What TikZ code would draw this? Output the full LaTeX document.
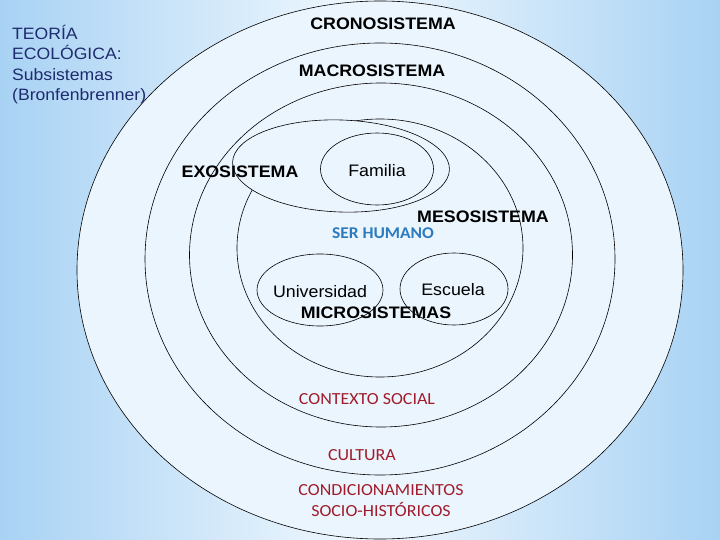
\documentclass[tikz,border=0pt]{standalone}
\usepackage{fontspec}
\setmainfont{Liberation Sans}[FakeStretch=1.07]
\newfontfamily\calibri{Carlito}[FakeStretch=1.06]
\usetikzlibrary{shapes.geometric}
\definecolor{bgblue}{HTML}{A8D2F4}
\definecolor{bgwhite}{HTML}{F0F8FE}
\definecolor{ringfill}{HTML}{EBF5FD}
\definecolor{navy}{HTML}{1E2B6E}
\definecolor{human}{HTML}{2C7BBE}
\definecolor{wine}{HTML}{A01C2C}

\begin{document}
\begin{tikzpicture}[x=1bp, y=1bp,
	ring/.style = {ellipse, draw=black, fill=ringfill, line width=0.6bp, inner sep=0pt},
	oval/.style = {ellipse, draw=black, line width=0.6bp, inner sep=0pt},
	sys/.style = {anchor=base, inner sep=0pt, font=\fontsize{16.7}{20}\selectfont\bfseries},
	lbl/.style = {anchor=base, inner sep=0pt, font=\fontsize{16.7}{20}\selectfont},
	ctx/.style = {anchor=base, inner sep=0pt, text=wine, font=\calibri\fontsize{17}{21}\selectfont}
	]
	
	%Background
	\useasboundingbox (0,0) rectangle (720,-540);
	\shade[left color=bgblue, right color=bgblue, middle color=bgwhite] (0,0) rectangle (720,-540);
	
	%Rings
	\node[ring, minimum width=606bp, minimum height=538bp]	(ring-crono)	at	(380,-270)	{};
	\node[ring, minimum width=470bp, minimum height=432bp]	(ring-macro)	at	(380,-259)	{};
	\node[ring, minimum width=383bp, minimum height=344bp]	(ring-exo)		at	(381,-255)	{};
	\node[ring, minimum width=286bp, minimum height=258bp]	(ring-meso)		at	(380,-248)	{};
	
	%Ovals
	\node[ring, minimum width=217bp, minimum height=92bp, rotate=-2]	(exo-fam)	at	(341,-166)	{};
	\node[oval, minimum width=113bp, minimum height=72bp]	(familia)	at	(377,-169)	{};
	\node[oval, minimum width=126bp, minimum height=72bp]	(univ)		at	(320,-290)	{};
	\node[oval, minimum width=108bp, minimum height=72bp]	(escuela)	at	(454,-289)	{};
	
	%Texts (a multi-line node sits on its last baseline)
	\node[anchor=base west, align=left, inner sep=0pt, text=navy, font=\fontsize{16.5}{20.7}\selectfont]
		(title) at (12,-101) {TEORÍA\\ECOLÓGICA:\\Subsistemas\\(Bronfenbrenner)};
	
	\node[sys]	(crono-txt)	at	(383,-30)	{CRONOSISTEMA};
	\node[sys]	(macro-txt)	at	(372,-77)	{MACROSISTEMA};
	\node[sys]	(exo-txt)	at	(240,-178)	{EXOSISTEMA};
	\node[sys]	(meso-txt)	at	(483,-223)	{MESOSISTEMA};
	\node[sys]	(micro-txt)	at	(376,-318)	{MICROSISTEMAS};
	
	\node[lbl]	(familia-txt)	at	(377,-177)	{Familia};
	\node[lbl]	(univ-txt)		at	(320,-297)	{Universidad};
	\node[lbl]	(escuela-txt)	at	(453,-295)	{Escuela};
	
	\node[anchor=base, inner sep=0pt, text=human, font=\calibri\bfseries\fontsize{16.5}{20}\selectfont]
		(ser) at (383,-239) {SER HUMANO};
	\node[ctx]	(contexto)	at	(367,-404)	{CONTEXTO SOCIAL};
	\node[ctx]	(cultura)	at	(362,-460)	{CULTURA};
	\node[ctx, align=center]	(socio)	at	(381,-516)	{CONDICIONAMIENTOS\\SOCIO-HISTÓRICOS};
	
\end{tikzpicture}
\end{document}
